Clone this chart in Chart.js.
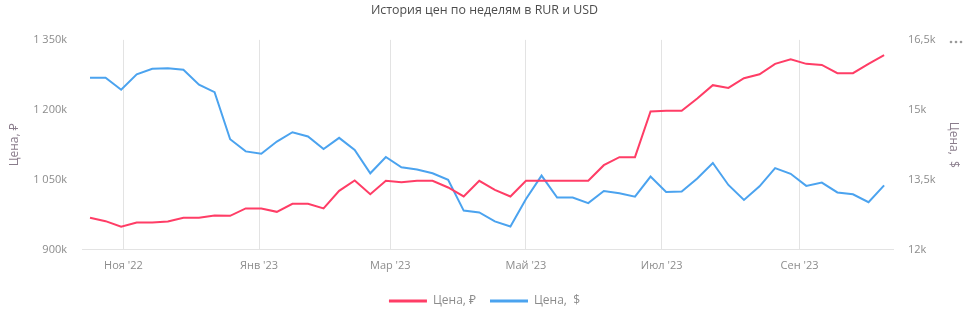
<!DOCTYPE html>
<html>
<head>
<meta charset="utf-8">
<script src="https://cdn.jsdelivr.net/npm/chart.js@4.4.1/dist/chart.umd.min.js"></script>
<style>
  html, body { margin: 0; padding: 0; background: #fff; }
  #wrap { width: 969px; height: 325px; position: relative; }
</style>
</head>
<body>
<div id="wrap"><canvas id="c" width="969" height="325"></canvas></div>
<script>
// Weekly dates (Monday of each week)
const weekDates = [
  '2022-10-17','2022-10-24','2022-10-31','2022-11-07','2022-11-14','2022-11-21','2022-11-28',
  '2022-12-05','2022-12-12','2022-12-19','2022-12-26','2023-01-02','2023-01-09','2023-01-16',
  '2023-01-23','2023-01-30','2023-02-06','2023-02-13','2023-02-20','2023-02-27','2023-03-06',
  '2023-03-13','2023-03-20','2023-03-27','2023-04-03','2023-04-10','2023-04-17','2023-04-24',
  '2023-05-01','2023-05-08','2023-05-15','2023-05-22','2023-05-29','2023-06-05','2023-06-12',
  '2023-06-19','2023-06-26','2023-07-03','2023-07-10','2023-07-17','2023-07-24','2023-07-31',
  '2023-08-07','2023-08-14','2023-08-21','2023-08-28','2023-09-04','2023-09-11','2023-09-18',
  '2023-09-25','2023-10-02','2023-10-09'
];
// Price in RUR
const priceRub = [
  968600, 961400, 949300, 958600, 958600, 960700, 968600, 968600, 973600, 972900,
  988600, 988600, 981400, 998600, 998600, 988600, 1026400, 1048600, 1019300, 1047900,
  1045000, 1047900, 1047900, 1033600, 1014300, 1047900, 1028600, 1014300, 1047900, 1047900,
  1047900, 1047900, 1047900, 1081400, 1098600, 1098600, 1196400, 1197900, 1197900, 1224300,
  1252900, 1247100, 1267900, 1276400, 1298600, 1308600, 1298600, 1296400, 1278600, 1278600,
  1298600, 1317100
];
// Price in USD
const priceUsd = [
  15690, 15690, 15430, 15760, 15880, 15890, 15860, 15540, 15380, 14370,
  14110, 14060, 14320, 14520, 14430, 14160, 14400, 14140, 13640, 13990,
  13770, 13720, 13640, 13500, 12840, 12800, 12610, 12500, 13090, 13590,
  13120, 13120, 13000, 13260, 13210, 13140, 13570, 13240, 13250, 13530,
  13860, 13390, 13070, 13360, 13750, 13630, 13370, 13440, 13230, 13190,
  13020, 13380
];
const monthTickDates = ['2022-11-01','2023-01-01','2023-03-01','2023-05-01','2023-07-01','2023-09-01'];
const monthTickLabels = ["Ноя '22","Янв '23","Мар '23","Май '23","Июл '23","Сен '23"];
const rubTicks = [900000, 1050000, 1200000, 1350000];
const usdTicks = [12000, 13500, 15000, 16500];

const DAY = 86400000;
const toMs = s => Date.parse(s + 'T00:00:00Z');
const xs = weekDates.map(toMs);
const tickMs = monthTickDates.map(toMs);

const FONT = "'Open Sans', 'Noto Sans', sans-serif";
const RED = '#ff3d66';
const BLUE = '#4ba3ef';
const TICK_COLOR = '#8c8c8c';
const AXIS_TITLE_COLOR = '#8a7d8c';

function fmtRub(v) {
  const k = Math.round(v / 1000);
  return String(k).replace(/\B(?=(\d{3})+(?!\d))/g, ' ') + 'k';
}
function fmtUsd(v) {
  const k = v / 1000;
  return String(k).replace('.', ',') + 'k';
}

const dotsPlugin = {
  id: 'dots',
  afterDraw(chart) {
    const ctx = chart.ctx;
    ctx.save();
    ctx.fillStyle = '#9a9a9a';
    [951, 956, 961].forEach(x => { ctx.beginPath(); ctx.arc(x, 42, 1.3, 0, Math.PI * 2); ctx.fill(); });
    ctx.restore();
  }
};

new Chart(document.getElementById('c'), {
  type: 'line',
  data: {
    datasets: [
      {
        label: 'Цена, ₽',
        data: xs.map((x, i) => ({ x, y: priceRub[i] })),
        borderColor: RED, backgroundColor: RED,
        borderWidth: 2, pointRadius: 0, tension: 0, yAxisID: 'yRub'
      },
      {
        label: 'Цена,  $',
        data: xs.map((x, i) => ({ x, y: priceUsd[i] })),
        borderColor: BLUE, backgroundColor: BLUE,
        borderWidth: 2, pointRadius: 0, tension: 0, yAxisID: 'yUsd'
      }
    ]
  },
  options: {
    responsive: false,
    animation: false,
    layout: { padding: { left: 0, right: 0, top: 0, bottom: 8 } },
    plugins: {
      title: {
        display: true,
        text: 'История цен по неделям в RUR и USD',
        color: '#4d4d4d',
        font: { family: FONT, size: 12.4, weight: 'normal' },
        padding: { top: 3, bottom: 22 }
      },
      legend: {
        position: 'bottom',
        labels: {
          boxWidth: 38, boxHeight: 3, padding: 14,
          color: TICK_COLOR,
          font: { family: FONT, size: 12 },
          generateLabels(chart) {
            const items = Chart.defaults.plugins.legend.labels.generateLabels(chart);
            items.forEach(it => { it.lineWidth = 0; it.strokeStyle = 'rgba(0,0,0,0)'; });
            return items;
          }
        }
      },
      tooltip: { enabled: false }
    },
    scales: {
      x: {
        type: 'linear',
        min: xs[0] - 3.6 * DAY,
        max: xs[xs.length - 1] + 4 * DAY,
        afterBuildTicks(scale) { scale.ticks = tickMs.map(v => ({ value: v })); },
        ticks: {
          autoSkip: false, maxRotation: 0, padding: 9,
          color: TICK_COLOR, font: { family: FONT, size: 11 },
          callback(v) { const i = tickMs.indexOf(v); return i >= 0 ? monthTickLabels[i] : ''; }
        },
        grid: { color: '#e3e3e3', drawTicks: false, lineWidth: 1 },
        border: { display: true, color: '#e3e3e3' }
      },
      yRub: {
        position: 'left',
        min: 900000, max: 1350000,
        afterBuildTicks(scale) { scale.ticks = rubTicks.map(v => ({ value: v })); },
        afterFit(scale) { scale.width = 82; },
        ticks: { padding: 15, color: TICK_COLOR, font: { family: FONT, size: 11 }, callback: v => fmtRub(v) },
        grid: { display: false, drawTicks: false },
        border: { display: false },
        title: { display: true, text: 'Цена, ₽', color: AXIS_TITLE_COLOR, font: { family: FONT, size: 12 }, padding: { top: 7, bottom: 0 } }
      },
      yUsd: {
        position: 'right',
        min: 12000, max: 16500,
        afterBuildTicks(scale) { scale.ticks = usdTicks.map(v => ({ value: v })); },
        afterFit(scale) { scale.width = 76; },
        ticks: { padding: 15, color: TICK_COLOR, font: { family: FONT, size: 11 }, callback: v => fmtUsd(v) },
        grid: { display: false, drawTicks: false },
        border: { display: false },
        title: { display: true, text: 'Цена,  $', color: AXIS_TITLE_COLOR, font: { family: FONT, size: 12 }, padding: { top: 8, bottom: 0 } }
      }
    }
  },
  plugins: [dotsPlugin]
});
</script>
</body>
</html>
